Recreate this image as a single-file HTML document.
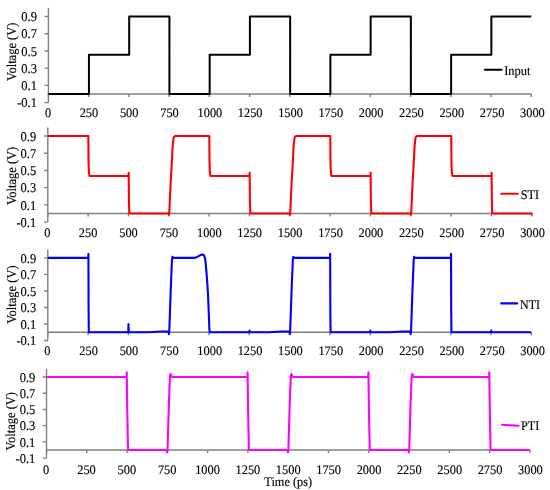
<!DOCTYPE html>
<html><head><meta charset="utf-8"><title>Voltage waveforms</title>
<style>html,body{margin:0;padding:0;background:#fff}svg{display:block}</style></head>
<body>
<svg width="550" height="490" viewBox="0 0 550 490">
<rect width="550" height="490" fill="#fff"/>
<g font-family="'Liberation Serif', 'Times New Roman', serif" font-size="13.2" fill="#000" text-rendering="geometricPrecision" stroke="#000" stroke-width="0.15">
<g stroke="#7f7f7f" stroke-width="1.4" fill="none">
<path d="M48.40 7.90V102.61"/>
<path d="M48.40 94.00H531.30"/>
<path d="M44.70 102.61H48.40M44.70 85.39H48.40M44.70 68.17H48.40M44.70 50.95H48.40M44.70 33.73H48.40M44.70 16.51H48.40M48.40 94.00v3M88.64 94.00v3M128.88 94.00v3M169.12 94.00v3M209.37 94.00v3M249.61 94.00v3M289.85 94.00v3M330.09 94.00v3M370.33 94.00v3M410.57 94.00v3M450.82 94.00v3M491.06 94.00v3M531.30 94.00v3"/>
</g>
<text font-size="13.4" transform="translate(37.0 107.2) scale(0.935 1)" text-anchor="end">-0.1</text>
<text font-size="13.4" transform="translate(37.0 90.0) scale(0.935 1)" text-anchor="end">0.1</text>
<text font-size="13.4" transform="translate(37.0 72.8) scale(0.935 1)" text-anchor="end">0.3</text>
<text font-size="13.4" transform="translate(37.0 55.5) scale(0.935 1)" text-anchor="end">0.5</text>
<text font-size="13.4" transform="translate(37.0 38.3) scale(0.935 1)" text-anchor="end">0.7</text>
<text font-size="13.4" transform="translate(37.0 21.1) scale(0.935 1)" text-anchor="end">0.9</text>
<text font-size="13.0" transform="translate(48.0 117.0) scale(0.95 1)" text-anchor="middle">0</text>
<text font-size="13.0" transform="translate(88.9 117.0) scale(0.95 1)" text-anchor="middle">250</text>
<text font-size="13.0" transform="translate(129.2 117.0) scale(0.95 1)" text-anchor="middle">500</text>
<text font-size="13.0" transform="translate(169.5 117.0) scale(0.95 1)" text-anchor="middle">750</text>
<text font-size="13.0" transform="translate(209.9 117.0) scale(0.95 1)" text-anchor="middle">1000</text>
<text font-size="13.0" transform="translate(250.2 117.0) scale(0.95 1)" text-anchor="middle">1250</text>
<text font-size="13.0" transform="translate(290.5 117.0) scale(0.95 1)" text-anchor="middle">1500</text>
<text font-size="13.0" transform="translate(330.8 117.0) scale(0.95 1)" text-anchor="middle">1750</text>
<text font-size="13.0" transform="translate(371.1 117.0) scale(0.95 1)" text-anchor="middle">2000</text>
<text font-size="13.0" transform="translate(411.4 117.0) scale(0.95 1)" text-anchor="middle">2250</text>
<text font-size="13.0" transform="translate(451.8 117.0) scale(0.95 1)" text-anchor="middle">2500</text>
<text font-size="13.0" transform="translate(492.1 117.0) scale(0.95 1)" text-anchor="middle">2750</text>
<text font-size="13.0" transform="translate(532.4 117.0) scale(0.95 1)" text-anchor="middle">3000</text>
<text transform="translate(15.6 51.8) rotate(-90) scale(0.925 1)" font-size="13.5" text-anchor="middle">Voltage (V)</text>
<path d="M48.40 94.00 L88.94 94.00 L88.94 54.74 L129.18 54.74 L129.18 16.51 L169.42 16.51 L169.42 94.00 L209.67 94.00 L209.67 54.74 L249.91 54.74 L249.91 16.51 L290.15 16.51 L290.15 94.00 L330.39 94.00 L330.39 54.74 L370.63 54.74 L370.63 16.51 L410.87 16.51 L410.87 94.00 L451.12 94.00 L451.12 54.74 L491.36 54.74 L491.36 16.51 L531.30 16.51" fill="none" stroke="#000000" stroke-width="2.0" stroke-linejoin="round" stroke-linecap="butt"/>
<path d="M484.90000000000003 69.7L501.5 69.7" stroke="#000000" stroke-width="2.0" stroke-linecap="round"/>
<text font-size="13.1" transform="translate(504.2 74.9) scale(0.95 1)">Input</text>
<g stroke="#7f7f7f" stroke-width="1.4" fill="none">
<path d="M47.80 127.40V222.11"/>
<path d="M47.80 213.50H531.70"/>
<path d="M44.10 222.11H47.80M44.10 204.89H47.80M44.10 187.67H47.80M44.10 170.45H47.80M44.10 153.23H47.80M44.10 136.01H47.80M47.80 213.50v3M88.12 213.50v3M128.45 213.50v3M168.77 213.50v3M209.10 213.50v3M249.43 213.50v3M289.75 213.50v3M330.07 213.50v3M370.40 213.50v3M410.73 213.50v3M451.05 213.50v3M491.38 213.50v3M531.70 213.50v3"/>
</g>
<text font-size="13.4" transform="translate(36.2 226.8) scale(0.935 1)" text-anchor="end">-0.1</text>
<text font-size="13.4" transform="translate(36.2 209.6) scale(0.935 1)" text-anchor="end">0.1</text>
<text font-size="13.4" transform="translate(36.2 192.4) scale(0.935 1)" text-anchor="end">0.3</text>
<text font-size="13.4" transform="translate(36.2 175.1) scale(0.935 1)" text-anchor="end">0.5</text>
<text font-size="13.4" transform="translate(36.2 157.9) scale(0.935 1)" text-anchor="end">0.7</text>
<text font-size="13.4" transform="translate(36.2 140.7) scale(0.935 1)" text-anchor="end">0.9</text>
<text font-size="13.0" transform="translate(47.4 237.0) scale(0.95 1)" text-anchor="middle">0</text>
<text font-size="13.0" transform="translate(88.1 237.0) scale(0.95 1)" text-anchor="middle">250</text>
<text font-size="13.0" transform="translate(128.5 237.0) scale(0.95 1)" text-anchor="middle">500</text>
<text font-size="13.0" transform="translate(168.9 237.0) scale(0.95 1)" text-anchor="middle">750</text>
<text font-size="13.0" transform="translate(209.3 237.0) scale(0.95 1)" text-anchor="middle">1000</text>
<text font-size="13.0" transform="translate(249.7 237.0) scale(0.95 1)" text-anchor="middle">1250</text>
<text font-size="13.0" transform="translate(290.1 237.0) scale(0.95 1)" text-anchor="middle">1500</text>
<text font-size="13.0" transform="translate(330.5 237.0) scale(0.95 1)" text-anchor="middle">1750</text>
<text font-size="13.0" transform="translate(370.9 237.0) scale(0.95 1)" text-anchor="middle">2000</text>
<text font-size="13.0" transform="translate(411.3 237.0) scale(0.95 1)" text-anchor="middle">2250</text>
<text font-size="13.0" transform="translate(451.7 237.0) scale(0.95 1)" text-anchor="middle">2500</text>
<text font-size="13.0" transform="translate(492.1 237.0) scale(0.95 1)" text-anchor="middle">2750</text>
<text font-size="13.0" transform="translate(532.5 237.0) scale(0.95 1)" text-anchor="middle">3000</text>
<text transform="translate(15.6 175.9) rotate(-90) scale(0.925 1)" font-size="13.5" text-anchor="middle">Voltage (V)</text>
<path d="M47.80 136.01 L88.34 136.01 L88.51 160.12 L88.75 170.45 L89.23 174.75 L89.55 176.05 L128.51 176.05 L128.67 172.86 L128.91 200.59 L129.31 213.50 L168.75 213.50 L168.91 214.79 L169.24 213.50 L170.53 185.09 L171.66 165.28 L172.62 146.34 L173.43 138.59 L174.24 136.44 L175.53 136.01 L209.32 136.01 L209.48 160.12 L209.72 170.45 L210.21 174.75 L210.53 176.05 L249.48 176.05 L249.64 172.86 L249.89 200.59 L250.29 213.50 L289.73 213.50 L289.89 214.79 L290.21 213.50 L291.50 185.09 L292.63 165.28 L293.60 146.34 L294.41 138.59 L295.21 136.44 L296.50 136.01 L330.29 136.01 L330.46 160.12 L330.70 170.45 L331.18 174.75 L331.50 176.05 L370.46 176.05 L370.62 172.86 L370.86 200.59 L371.26 213.50 L410.70 213.50 L410.86 214.79 L411.19 213.50 L412.48 185.09 L413.61 165.28 L414.57 146.34 L415.38 138.59 L416.19 136.44 L417.48 136.01 L451.27 136.01 L451.43 160.12 L451.67 170.45 L452.16 174.75 L452.48 176.05 L491.43 176.05 L491.59 172.86 L491.84 200.59 L492.24 213.50 L531.68 213.50 L531.70 214.79" fill="none" stroke="#ff0000" stroke-width="2.1" stroke-linejoin="round" stroke-linecap="butt"/>
<path d="M501.2 193.8L517.8000000000001 193.8" stroke="#ff0000" stroke-width="2.1" stroke-linecap="round"/>
<text font-size="13.1" transform="translate(520.7 199.1) scale(0.94 1)">STI</text>
<g stroke="#7f7f7f" stroke-width="1.4" fill="none">
<path d="M47.80 249.60V340.57"/>
<path d="M47.80 332.30H531.30"/>
<path d="M44.10 340.57H47.80M44.10 324.03H47.80M44.10 307.49H47.80M44.10 290.95H47.80M44.10 274.41H47.80M44.10 257.87H47.80M47.80 332.30v3M88.09 332.30v3M128.38 332.30v3M168.67 332.30v3M208.97 332.30v3M249.26 332.30v3M289.55 332.30v3M329.84 332.30v3M370.13 332.30v3M410.42 332.30v3M450.72 332.30v3M491.01 332.30v3M531.30 332.30v3"/>
</g>
<text font-size="13.4" transform="translate(36.2 345.3) scale(0.935 1)" text-anchor="end">-0.1</text>
<text font-size="13.4" transform="translate(36.2 328.7) scale(0.935 1)" text-anchor="end">0.1</text>
<text font-size="13.4" transform="translate(36.2 312.2) scale(0.935 1)" text-anchor="end">0.3</text>
<text font-size="13.4" transform="translate(36.2 295.6) scale(0.935 1)" text-anchor="end">0.5</text>
<text font-size="13.4" transform="translate(36.2 279.1) scale(0.935 1)" text-anchor="end">0.7</text>
<text font-size="13.4" transform="translate(36.2 262.6) scale(0.935 1)" text-anchor="end">0.9</text>
<text font-size="13.0" transform="translate(47.4 355.3) scale(0.95 1)" text-anchor="middle">0</text>
<text font-size="13.0" transform="translate(88.6 355.3) scale(0.95 1)" text-anchor="middle">250</text>
<text font-size="13.0" transform="translate(128.9 355.3) scale(0.95 1)" text-anchor="middle">500</text>
<text font-size="13.0" transform="translate(169.3 355.3) scale(0.95 1)" text-anchor="middle">750</text>
<text font-size="13.0" transform="translate(209.7 355.3) scale(0.95 1)" text-anchor="middle">1000</text>
<text font-size="13.0" transform="translate(250.0 355.3) scale(0.95 1)" text-anchor="middle">1250</text>
<text font-size="13.0" transform="translate(290.4 355.3) scale(0.95 1)" text-anchor="middle">1500</text>
<text font-size="13.0" transform="translate(330.8 355.3) scale(0.95 1)" text-anchor="middle">1750</text>
<text font-size="13.0" transform="translate(371.1 355.3) scale(0.95 1)" text-anchor="middle">2000</text>
<text font-size="13.0" transform="translate(411.5 355.3) scale(0.95 1)" text-anchor="middle">2250</text>
<text font-size="13.0" transform="translate(451.9 355.3) scale(0.95 1)" text-anchor="middle">2500</text>
<text font-size="13.0" transform="translate(492.2 355.3) scale(0.95 1)" text-anchor="middle">2750</text>
<text font-size="13.0" transform="translate(532.6 355.3) scale(0.95 1)" text-anchor="middle">3000</text>
<text transform="translate(15.6 294.6) rotate(-90) scale(0.925 1)" font-size="13.5" text-anchor="middle">Voltage (V)</text>
<path d="M47.80 257.87 L88.25 257.87 L88.41 253.90 L88.57 307.49 L88.81 332.30 L128.30 332.30 L128.46 324.03 L128.78 332.30 L148.12 332.30 L161.02 331.56 L168.59 331.31 L168.91 333.95 L169.24 332.30 L170.69 290.95 L171.98 259.52 L172.46 256.88 L173.27 257.87 L194.86 257.87 L198.09 256.46 L200.99 254.81 L202.92 254.56 L204.05 255.39 L204.85 257.87 L205.50 261.18 L206.79 276.06 L207.92 292.60 L208.72 311.62 L209.37 328.99 L209.69 332.30 L249.17 332.30 L249.50 330.65 L249.82 332.30 L269.00 332.30 L281.89 331.56 L289.47 331.31 L289.79 333.95 L290.11 332.30 L291.56 290.95 L292.85 259.52 L293.33 256.88 L294.14 257.87 L330.00 257.87 L330.16 253.90 L330.32 307.49 L330.56 332.30 L370.05 332.30 L370.37 330.65 L370.69 332.30 L389.87 332.30 L402.77 331.56 L410.34 331.31 L410.66 333.95 L410.99 332.30 L412.44 290.95 L413.73 259.52 L414.21 256.88 L415.02 257.87 L450.87 257.87 L451.04 253.90 L451.20 307.49 L451.44 332.30 L490.92 332.30 L491.25 330.65 L491.57 332.30 L531.30 332.30" fill="none" stroke="#0000ff" stroke-width="2.1" stroke-linejoin="round" stroke-linecap="butt"/>
<path d="M501.2 303.4L517.2 303.4" stroke="#0000ff" stroke-width="2.1" stroke-linecap="round"/>
<text font-size="13.1" transform="translate(520 308.6) scale(0.915 1)">NTI</text>
<g stroke="#7f7f7f" stroke-width="1.4" fill="none">
<path d="M46.50 368.90V458.11"/>
<path d="M46.50 450.00H529.90"/>
<path d="M42.80 458.11H46.50M42.80 441.89H46.50M42.80 425.67H46.50M42.80 409.45H46.50M42.80 393.23H46.50M42.80 377.01H46.50M46.50 450.00v3M86.78 450.00v3M127.07 450.00v3M167.35 450.00v3M207.63 450.00v3M247.92 450.00v3M288.20 450.00v3M328.48 450.00v3M368.77 450.00v3M409.05 450.00v3M449.33 450.00v3M489.62 450.00v3M529.90 450.00v3"/>
</g>
<text font-size="13.4" transform="translate(35.3 462.8) scale(0.935 1)" text-anchor="end">-0.1</text>
<text font-size="13.4" transform="translate(35.3 446.6) scale(0.935 1)" text-anchor="end">0.1</text>
<text font-size="13.4" transform="translate(35.3 430.4) scale(0.935 1)" text-anchor="end">0.3</text>
<text font-size="13.4" transform="translate(35.3 414.1) scale(0.935 1)" text-anchor="end">0.5</text>
<text font-size="13.4" transform="translate(35.3 397.9) scale(0.935 1)" text-anchor="end">0.7</text>
<text font-size="13.4" transform="translate(35.3 381.7) scale(0.935 1)" text-anchor="end">0.9</text>
<text font-size="13.0" transform="translate(46.1 473.7) scale(0.95 1)" text-anchor="middle">0</text>
<text font-size="13.0" transform="translate(86.5 473.7) scale(0.95 1)" text-anchor="middle">250</text>
<text font-size="13.0" transform="translate(126.8 473.7) scale(0.95 1)" text-anchor="middle">500</text>
<text font-size="13.0" transform="translate(167.2 473.7) scale(0.95 1)" text-anchor="middle">750</text>
<text font-size="13.0" transform="translate(207.5 473.7) scale(0.95 1)" text-anchor="middle">1000</text>
<text font-size="13.0" transform="translate(247.9 473.7) scale(0.95 1)" text-anchor="middle">1250</text>
<text font-size="13.0" transform="translate(288.2 473.7) scale(0.95 1)" text-anchor="middle">1500</text>
<text font-size="13.0" transform="translate(328.6 473.7) scale(0.95 1)" text-anchor="middle">1750</text>
<text font-size="13.0" transform="translate(369.0 473.7) scale(0.95 1)" text-anchor="middle">2000</text>
<text font-size="13.0" transform="translate(409.3 473.7) scale(0.95 1)" text-anchor="middle">2250</text>
<text font-size="13.0" transform="translate(449.7 473.7) scale(0.95 1)" text-anchor="middle">2500</text>
<text font-size="13.0" transform="translate(490.0 473.7) scale(0.95 1)" text-anchor="middle">2750</text>
<text font-size="13.0" transform="translate(530.4 473.7) scale(0.95 1)" text-anchor="middle">3000</text>
<text transform="translate(15.0 421.2) rotate(-90) scale(0.925 1)" font-size="13.5" text-anchor="middle">Voltage (V)</text>
<path d="M46.50 377.01 L126.58 377.01 L126.74 372.39 L127.23 409.45 L128.03 450.00 L166.87 450.00 L167.19 452.43 L167.51 450.00 L168.96 401.34 L169.93 377.01 L170.57 374.01 L171.54 376.60 L173.80 377.01 L247.43 377.01 L247.59 372.39 L248.08 409.45 L248.88 450.00 L287.72 450.00 L288.04 452.43 L288.36 450.00 L289.81 401.34 L290.78 377.01 L291.42 374.01 L292.39 376.60 L294.65 377.01 L368.28 377.01 L368.44 372.39 L368.93 409.45 L369.73 450.00 L408.57 450.00 L408.89 452.43 L409.21 450.00 L410.66 401.34 L411.63 377.01 L412.27 374.01 L413.24 376.60 L415.50 377.01 L489.13 377.01 L489.29 372.39 L489.78 409.45 L490.58 450.00 L529.90 450.00" fill="none" stroke="#ff00ff" stroke-width="2.1" stroke-linejoin="round" stroke-linecap="butt"/>
<path d="M502.0 424.8L518.6 425.7" stroke="#ff00ff" stroke-width="2.1" stroke-linecap="round"/>
<text font-size="13.1" transform="translate(521 430.3) scale(0.93 1)">PTI</text>
<text font-size="13.1" transform="translate(288.2 485.6) scale(0.94 1)" text-anchor="middle">Time (ps)</text>
</g></svg>
</body></html>
